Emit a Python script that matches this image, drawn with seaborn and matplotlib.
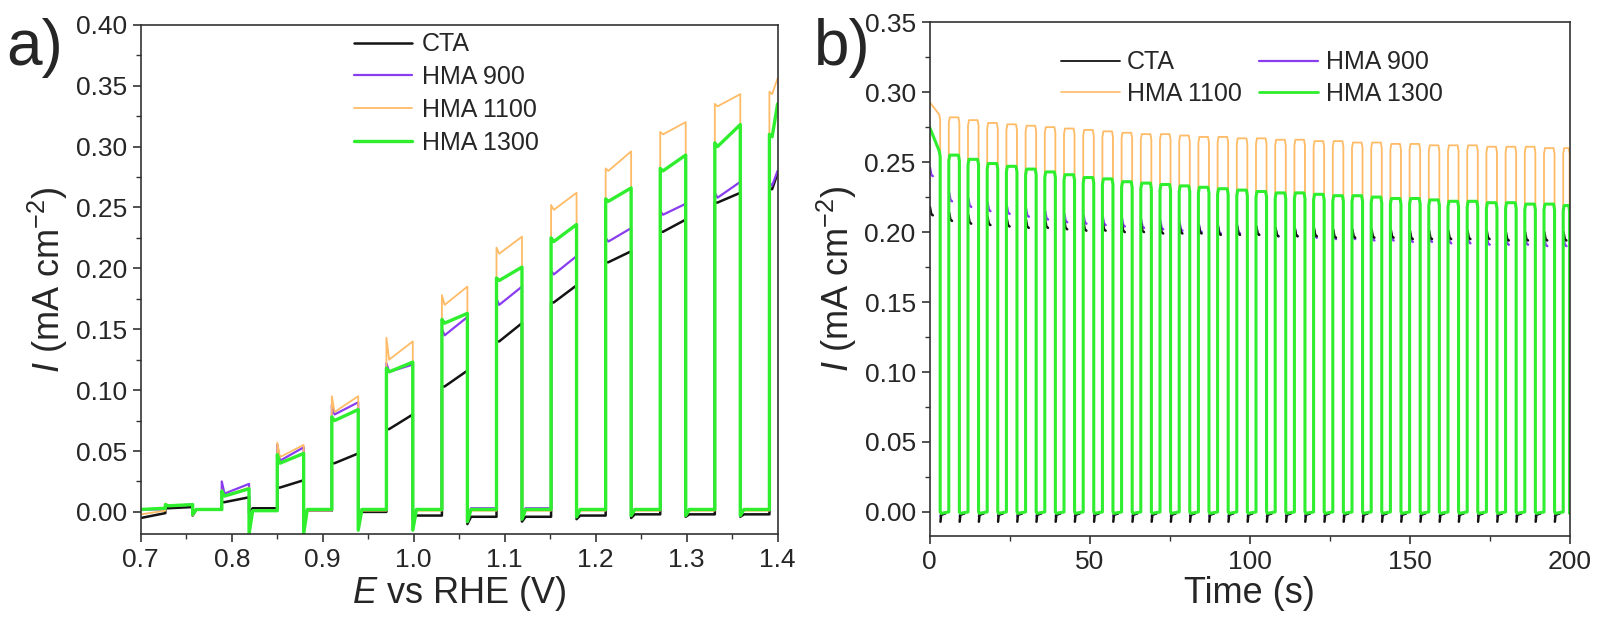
import pandas as pd
import matplotlib.pyplot as plt
import seaborn as sns
from matplotlib.lines import Line2D

# --- colours / labels ---
series_names = ['CTA', 'HMA 900', 'HMA 1100', 'HMA 1300']
series_colors = ['#141414', '#8a3cf0', '#ffbb66', '#2eee2e']
lsv_widths = [1.8, 1.6, 1.3, 2.4]

# --- panel a: chopped LSV, potentials of light on / off (V vs RHE) ---
E_on = [0.727, 0.789, 0.850, 0.910, 0.970, 1.031, 1.091, 1.151, 1.211, 1.271, 1.331, 1.391]
E_off = [0.757, 0.819, 0.879, 0.939, 0.999, 1.059, 1.119, 1.179, 1.239, 1.299, 1.359]
E_start, E_end = 0.70, 1.40

# CTA
cta_first, cta_pre = -0.005, -0.001
cta_peak = [0.003, 0.008, 0.020, 0.040, 0.068, 0.103, 0.140, 0.172, 0.205, 0.230, 0.254, 0.265]
cta_on_start = [0.003, 0.008, 0.020, 0.040, 0.068, 0.103, 0.140, 0.172, 0.205, 0.230, 0.254, 0.265]
cta_on_end = [0.004, 0.012, 0.026, 0.048, 0.080, 0.116, 0.155, 0.186, 0.214, 0.240, 0.262, 0.278]
cta_dip = [-0.003, -0.001, -0.002, -0.003, -0.006, -0.010, -0.008, -0.006, -0.005, -0.004, -0.004]
cta_dark = [0.002, 0.003, 0.001, 0.000, -0.003, -0.004, -0.004, -0.003, -0.002, -0.002, -0.002]

# HMA 900
h900_first, h900_pre = 0.002, 0.002
h900_peak = [0.006, 0.025, 0.055, 0.088, 0.122, 0.150, 0.175, 0.198, 0.225, 0.247, 0.262, 0.270]
h900_on_start = [0.005, 0.015, 0.042, 0.080, 0.115, 0.145, 0.170, 0.195, 0.222, 0.244, 0.258, 0.268]
h900_on_end = [0.006, 0.023, 0.053, 0.090, 0.121, 0.160, 0.185, 0.210, 0.233, 0.253, 0.271, 0.280]
h900_dip = [-0.002, -0.005, -0.005, -0.005, -0.005, -0.004, -0.003, -0.003, -0.003, -0.003, -0.003]
h900_dark = [0.002, 0.001, 0.001, 0.002, 0.002, 0.003, 0.003, 0.002, 0.002, 0.002, 0.002]

# HMA 1100
h1100_first, h1100_pre = -0.002, 0.001
h1100_peak = [0.007, 0.018, 0.057, 0.095, 0.143, 0.178, 0.217, 0.252, 0.282, 0.312, 0.335, 0.345]
h1100_on_start = [0.005, 0.013, 0.045, 0.082, 0.125, 0.170, 0.212, 0.248, 0.280, 0.310, 0.333, 0.343]
h1100_on_end = [0.006, 0.020, 0.055, 0.095, 0.140, 0.185, 0.226, 0.262, 0.296, 0.320, 0.343, 0.356]
h1100_dip = [-0.003, -0.018, -0.018, -0.012, -0.012, -0.005, -0.004, -0.003, -0.002, -0.002, -0.002]
h1100_dark = [0.002, 0.001, 0.001, 0.001, 0.001, 0.001, 0.001, 0.001, 0.001, 0.001, 0.001]

# HMA 1300
h1300_first, h1300_pre = 0.002, 0.003
h1300_peak = [0.006, 0.017, 0.047, 0.078, 0.118, 0.158, 0.192, 0.225, 0.257, 0.282, 0.303, 0.310]
h1300_on_start = [0.005, 0.013, 0.040, 0.075, 0.115, 0.155, 0.190, 0.222, 0.255, 0.280, 0.300, 0.308]
h1300_on_end = [0.006, 0.019, 0.048, 0.084, 0.123, 0.163, 0.201, 0.236, 0.266, 0.293, 0.318, 0.335]
h1300_dip = [-0.002, -0.018, -0.018, -0.015, -0.015, -0.008, -0.006, -0.004, -0.003, -0.003, -0.003]
h1300_dark = [0.002, 0.001, 0.002, 0.002, 0.002, 0.002, 0.002, 0.002, 0.002, 0.002, 0.002]

# --- panel b: chopped chronoamperometry ---
t_on = [0, 6, 12, 18, 24, 30, 36, 42, 48, 54, 60, 66, 72, 78, 84, 90, 96,
        102, 108, 114, 120, 126, 132, 138, 144, 150, 156, 162, 168, 174, 180, 186, 192, 198]
on_time = 3.3
t_end = 200

cta_top = [0.212, 0.208, 0.206, 0.205, 0.204, 0.203, 0.203, 0.202, 0.201, 0.201, 0.200, 0.200,
           0.199, 0.199, 0.199, 0.198, 0.198, 0.198, 0.197, 0.197, 0.197, 0.196, 0.196, 0.196,
           0.196, 0.195, 0.195, 0.195, 0.195, 0.195, 0.194, 0.194, 0.194, 0.194]
h900_top = [0.240, 0.222, 0.218, 0.215, 0.213, 0.211, 0.209, 0.207, 0.206, 0.205, 0.204, 0.203,
            0.202, 0.201, 0.200, 0.199, 0.199, 0.198, 0.197, 0.197, 0.196, 0.195, 0.195, 0.194,
            0.194, 0.193, 0.193, 0.192, 0.192, 0.191, 0.191, 0.191, 0.190, 0.190]
h1100_top = [0.293, 0.282, 0.280, 0.278, 0.277, 0.276, 0.275, 0.274, 0.273, 0.272, 0.271, 0.270,
             0.270, 0.269, 0.268, 0.268, 0.267, 0.267, 0.266, 0.266, 0.265, 0.265, 0.264, 0.264,
             0.263, 0.263, 0.262, 0.262, 0.262, 0.261, 0.261, 0.261, 0.260, 0.260]
h1300_top = [0.275, 0.255, 0.252, 0.249, 0.247, 0.245, 0.243, 0.241, 0.239, 0.238, 0.236, 0.235,
             0.234, 0.233, 0.232, 0.231, 0.230, 0.229, 0.228, 0.228, 0.227, 0.226, 0.226, 0.225,
             0.224, 0.224, 0.223, 0.222, 0.222, 0.221, 0.221, 0.220, 0.220, 0.219]
h1100_first_end = 0.284
h1300_first_end = 0.258


def lsv_trace(first, pre, peak, on_start, on_end, dip, dark):
    pts = [(E_start, first)]
    before = pre
    for i, e in enumerate(E_on):
        pts += [(e, before), (e, peak[i]), (e + 0.003, on_start[i])]
        if i < len(E_off):
            pts += [(E_off[i], on_end[i]), (E_off[i], dip[i]), (E_off[i] + 0.004, dark[i])]
            before = dark[i]
        else:
            pts.append((E_end, on_end[i]))
    return pd.DataFrame(pts, columns=['E', 'I'])


def ca_trace(top, first_end):
    pts = [(0, top[0])]
    for i, t in enumerate(t_on):
        t_off = min(t + on_time, t_end)
        level = first_end if i == 0 else top[i]
        if i > 0:
            pts += [(t, 0.0), (t, level - 0.004), (t + 0.3, level)]
        pts += [(t_off - 0.3, level), (t_off, level - 0.004), (t_off, 0.0),
                (t_off + 0.3, -0.001)]
    pts.append((t_end, -0.001))
    return pd.DataFrame(pts, columns=['t', 'I'])


def ca_marks(top, low):
    # only the short transients of these two curves show beside the green edges
    rows = []
    for i, t in enumerate(t_on):
        rows += [(t + 0.1, top[i] + 0.006, 2 * i), (t + 0.5, top[i] + 0.001, 2 * i),
                 (t + 1.0, top[i], 2 * i)]
        t_off = t + on_time
        if t_off < t_end:
            rows += [(t_off + 0.1, low, 2 * i + 1), (t_off + 0.3, -0.002, 2 * i + 1),
                     (t_off + 1.6, -0.001, 2 * i + 1)]
    return pd.DataFrame(rows, columns=['t', 'I', 'seg'])


sns.set_style('ticks')
plt.rcParams['font.family'] = ['Liberation Sans', 'DejaVu Sans']
plt.rcParams['mathtext.fontset'] = 'custom'
plt.rcParams['mathtext.rm'] = 'Liberation Sans'
plt.rcParams['mathtext.it'] = 'Liberation Sans:italic'

fig = plt.figure(figsize=(16, 6.34), dpi=100)
ax1 = fig.add_axes([0.088, 0.158, 0.398, 0.803])
ax2 = fig.add_axes([0.581, 0.155, 0.400, 0.810])

# panel a
lsv_data = [
    lsv_trace(cta_first, cta_pre, cta_peak, cta_on_start, cta_on_end, cta_dip, cta_dark),
    lsv_trace(h900_first, h900_pre, h900_peak, h900_on_start, h900_on_end, h900_dip, h900_dark),
    lsv_trace(h1100_first, h1100_pre, h1100_peak, h1100_on_start, h1100_on_end, h1100_dip,
              h1100_dark),
    lsv_trace(h1300_first, h1300_pre, h1300_peak, h1300_on_start, h1300_on_end, h1300_dip,
              h1300_dark),
]
for df, c, lw in zip(lsv_data, series_colors, lsv_widths):
    sns.lineplot(data=df, x='E', y='I', sort=False, estimator=None, color=c, lw=lw, ax=ax1)

# panel b
for top, low, c in [(h900_top, -0.003, series_colors[1]), (cta_top, -0.007, series_colors[0])]:
    sns.lineplot(data=ca_marks(top, low), x='t', y='I', units='seg', sort=False,
                 estimator=None, color=c, lw=1.8, ax=ax2)
sns.lineplot(data=ca_trace(h1100_top, h1100_first_end), x='t', y='I', sort=False,
             estimator=None, color=series_colors[2], lw=1.3, ax=ax2)
sns.lineplot(data=ca_trace(h1300_top, h1300_first_end), x='t', y='I', sort=False,
             estimator=None, color=series_colors[3], lw=2.2, ax=ax2)

ylabel = r'$\mathit{I}$ (mA cm$^{-2}$)'
ax1.set_xlim(0.7, 1.4)
ax1.set_ylim(-0.018, 0.40)
ax1.set_xticks([0.7, 0.8, 0.9, 1.0, 1.1, 1.2, 1.3, 1.4])
ax1.set_xticks([0.75, 0.85, 0.95, 1.05, 1.15, 1.25, 1.35], minor=True)
ax1.set_yticks([0.0, 0.05, 0.10, 0.15, 0.20, 0.25, 0.30, 0.35, 0.40])
ax1.set_yticks([0.025, 0.075, 0.125, 0.175, 0.225, 0.275, 0.325, 0.375], minor=True)
ax1.set_yticklabels(['0.00', '0.05', '0.10', '0.15', '0.20', '0.25', '0.30', '0.35', '0.40'])
ax1.set_xlabel(r'$\mathit{E}$ vs RHE (V)', fontsize=26, labelpad=2)
ax1.set_ylabel(ylabel, fontsize=26, labelpad=4)

ax2.set_xlim(0, 200)
ax2.set_ylim(-0.017, 0.35)
ax2.set_xticks([0, 50, 100, 150, 200])
ax2.set_xticks([25, 75, 125, 175], minor=True)
ax2.set_yticks([0.0, 0.05, 0.10, 0.15, 0.20, 0.25, 0.30, 0.35])
ax2.set_yticks([0.025, 0.075, 0.125, 0.175, 0.225, 0.275, 0.325], minor=True)
ax2.set_yticklabels(['0.00', '0.05', '0.10', '0.15', '0.20', '0.25', '0.30', '0.35'])
ax2.set_xlabel('Time (s)', fontsize=26, labelpad=2)
ax2.set_ylabel(ylabel, fontsize=26, labelpad=4)

for ax in (ax1, ax2):
    for s in ax.spines.values():
        s.set_color('#333333')
        s.set_linewidth(1.2)
    ax.tick_params(which='major', direction='out', length=6, width=1.2,
                   labelsize=19, color='#333333', pad=4)
    ax.tick_params(which='minor', direction='out', length=3.5, width=1.0, color='#333333')

handles = [Line2D([], [], color=c, lw=lw) for c, lw in zip(series_colors, lsv_widths)]
ax1.legend(handles, series_names, loc='upper left', bbox_to_anchor=(0.335, 0.985),
           frameon=False, fontsize=18, handlelength=2.3, handletextpad=0.4,
           labelspacing=0.35, borderpad=0, borderaxespad=0)

order = [0, 2, 1, 3]
ax2.legend([Line2D([], [], color=series_colors[k], lw=[1.3, 1.6, 1.2, 2.0][k]) for k in order],
           [series_names[k] for k in order], ncol=2, loc='upper left',
           bbox_to_anchor=(0.205, 0.945), frameon=False, fontsize=18, handlelength=2.35,
           handletextpad=0.3, columnspacing=0.7, labelspacing=0.3, borderpad=0,
           borderaxespad=0)

fig.text(0.004, 0.897, 'a)', fontsize=46, va='baseline')
fig.text(0.509, 0.897, 'b)', fontsize=46, va='baseline')

fig.savefig('out.png', dpi=100)
